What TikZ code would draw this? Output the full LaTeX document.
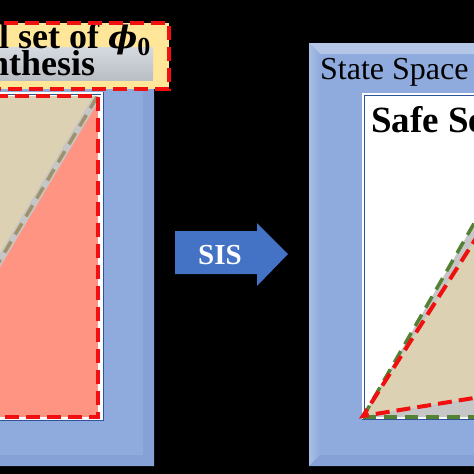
\documentclass[tikz,border=0pt]{standalone}
\usepackage{fontspec}
\setmainfont{Liberation Serif}
\newfontfamily\phifont{DejaVu Serif}
\definecolor{frameblue}{HTML}{8FAADC}
\definecolor{framelight}{HTML}{B4C7E7}
\definecolor{framedark}{HTML}{86A1D5}
\definecolor{boxline}{HTML}{2F5597}
\definecolor{salmon}{HTML}{FF9483}
\definecolor{tanfill}{HTML}{DDD1B4}
\definecolor{edgegray}{HTML}{C6C6C6}
\definecolor{dashred}{HTML}{F01010}
\definecolor{dashgreen}{HTML}{548235}
\definecolor{dasholive}{HTML}{A09268}
\definecolor{labelyellow}{HTML}{FFE699}
\definecolor{bandtop}{HTML}{D6DBE1}
\definecolor{bandbot}{HTML}{B9BEC4}
\definecolor{arrowblue}{HTML}{4472C4}
\begin{document}
\begin{tikzpicture}[x=1pt, y=-1pt,
  inner box/.style={draw=boxline, line width=0.8pt, double=white, double distance=1.4pt},
  red dash/.style={draw=dashred, line width=4pt, dash pattern=on 14pt off 7pt},
  green dash/.style={draw=dashgreen, line width=3.5pt, dash pattern=on 13pt off 8pt},
  olive dash/.style={draw=dasholive, line width=3.5pt, dash pattern=on 13pt off 8pt},
  gray edge/.style={draw=edgegray, line width=7pt},
  big label/.style={font=\fontsize{36}{40}\selectfont\bfseries, inner sep=0pt, anchor=base west}]
\useasboundingbox (0,0) rectangle (474,474);
\clip (0,0) rectangle (474,474);
\fill[black] (0,0) rectangle (474,474);
% left frame
\fill[frameblue] (-10,43) rectangle (154,466);
\fill[framedark] (154,43) -- (143,54) -- (143,455) -- (154,466) -- cycle;
\fill[framedark] (-10,466) -- (154,466) -- (143,455) -- (-10,455) -- cycle;
\draw[inner box, fill=white] (-10,93) rectangle (102,419);
\fill[salmon] (-10,96) rectangle (98,417);
\fill[tanfill] (-10,96) -- (97,96) -- (-10,277) -- cycle;
\draw[gray edge] (97,97) -- (-10,277);
\draw[olive dash] (97,97) -- (-10,277);
\draw[red dash] (-10,96) rectangle (98,417);
% label box
\fill[labelyellow] (-10,23) rectangle (169,89);
\shade[top color=bandtop, bottom color=bandbot] (-10,47) rectangle (153,80);
\node[big label] (synth) at (-11,75) {nthesis};
\node[big label] (initset) at (-1,48) {l set of {\phifont\fontsize{31}{34}\selectfont\itshape ϕ}\raisebox{-7pt}{\fontsize{26}{28}\selectfont 0}};
\draw[red dash] (-10,23) rectangle (169,89);
% SIS arrow
\fill[arrowblue] (175,231) -- (257,231) -- (257,223) -- (288,254) -- (257,286)
  -- (257,274) -- (175,274) -- cycle;
\node[font=\fontsize{29}{32}\selectfont\bfseries, text=white, inner sep=0pt] (sis) at (220,255) {SIS};
% right frame
\fill[frameblue] (309,43) rectangle (480,466);
\fill[framelight] (309,43) -- (480,43) -- (480,54) -- (320,54) -- cycle;
\shade[left color=framelight!70!frameblue, right color=frameblue] (309,43) -- (320,54) -- (320,455) -- (309,466) -- cycle;
\fill[framedark] (309,466) -- (320,455) -- (480,455) -- (480,466) -- cycle;
\node[font=\fontsize{32}{36}\selectfont, inner sep=0pt, anchor=base west] (statespace) at (320,79) {State Space};
\draw[inner box, fill=white] (363,94) rectangle (490,418);
\node[font=\fontsize{37}{40}\selectfont\bfseries, inner sep=0pt, anchor=base west] (safeset) at (371,132) {Safe Se};
% safe set triangles
\fill[edgegray] (363,417) -- (480,213) -- (480,417) -- cycle;
\fill[tanfill] (363,416) -- (480,232) -- (480,397) -- cycle;
\draw[green dash] (363,417) -- (480,213);
\draw[green dash] (363,417) -- (480,417);
\draw[red dash] (480,232) -- (363,416) -- (480,397);
\end{tikzpicture}
\end{document}
